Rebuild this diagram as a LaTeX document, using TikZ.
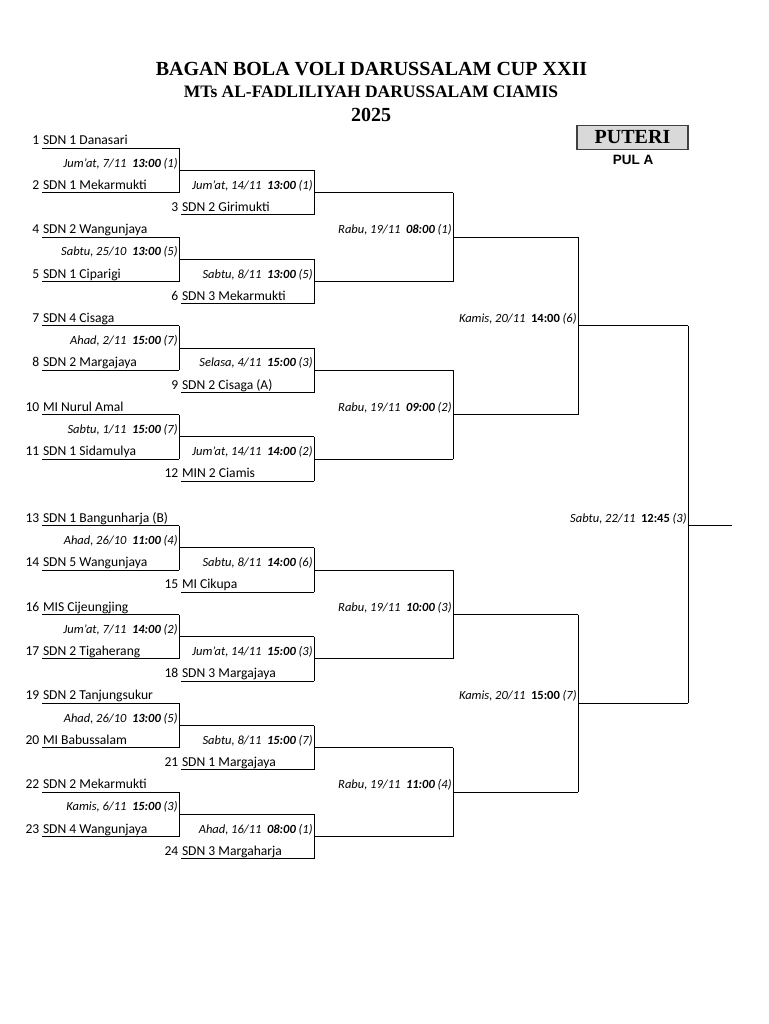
\documentclass[tikz,border=0pt]{standalone}
\usepackage{fontspec}
\setmainfont{Carlito}
\newfontfamily\judulfont{Liberation Serif}
\newfontfamily\pulfont{Liberation Sans}
\newcommand{\ry}[1]{148.3+22.2*(#1)}

\begin{document}
\begin{tikzpicture}[x=1pt,y=-1pt,
    garis/.style={line width=0.9pt},
    nomor/.style={anchor=base east,inner sep=0pt,font=\fontsize{13.6}{15}\selectfont},
    tim/.style={anchor=base west,inner sep=0pt,font=\fontsize{13.6}{15}\selectfont},
    jadwal/.style={anchor=base east,inner sep=0pt,font=\fontsize{12.5}{14}\selectfont\itshape},
    judul/.style={anchor=base,inner sep=0pt,font=\judulfont\bfseries\fontsize{#1}{#1}\selectfont}]
\useasboundingbox (0,0) rectangle (768,1024);

\node[judul=20] (judul1) at (371.5,76) {BAGAN BOLA VOLI DARUSSALAM CUP XXII};
\node[judul=17.5] (judul2) at (371,97.5) {MTs AL-FADLILIYAH DARUSSALAM CIAMIS};
\node[judul=20] (tahun) at (371,122) {2025};
\node[draw=black!75,fill=gray!30,line width=1.1pt,minimum width=111pt,minimum height=23.6pt,
      inner sep=0pt,font=\judulfont\bfseries\fontsize{20}{20}\selectfont] (puteri) at (632.5,137.5) {PUTERI};
\node[anchor=base,inner sep=0pt,font=\pulfont\bfseries\fontsize{13.5}{15}\selectfont] (pul) at (633,165) {PUL A};

\foreach \n/\r/\c/\nama in {1/0/1/SDN 1 Danasari, 2/2/1/SDN 1 Mekarmukti, 3/3/2/SDN 2 Girimukti,
    4/4/1/SDN 2 Wangunjaya, 5/6/1/SDN 1 Ciparigi, 6/7/2/SDN 3 Mekarmukti,
    7/8/1/SDN 4 Cisaga, 8/10/1/SDN 2 Margajaya, 9/11/2/SDN 2 Cisaga (A),
    10/12/1/MI Nurul Amal, 11/14/1/SDN 1 Sidamulya, 12/15/2/MIN 2 Ciamis,
    13/17/1/SDN 1 Bangunharja (B), 14/19/1/SDN 5 Wangunjaya, 15/20/2/MI Cikupa,
    16/21/1/MIS Cijeungjing, 17/23/1/SDN 2 Tigaherang, 18/24/2/SDN 3 Margajaya,
    19/25/1/SDN 2 Tanjungsukur, 20/27/1/MI Babussalam, 21/28/2/SDN 1 Margajaya,
    22/29/1/SDN 2 Mekarmukti, 23/31/1/SDN 4 Wangunjaya, 24/32/2/SDN 3 Margaharja}
{
  \ifnum\c=1 \def\xa{42}\def\xb{179}\else\def\xa{181}\def\xb{314}\fi
  \coordinate (t\n w) at (\xa,{\ry{\r}});
  \coordinate (t\n e) at (\xb,{\ry{\r}});
  \draw[garis] (t\n w) -- (t\n e);
  \node[nomor] (no\n) at ([shift={(-2.5,-3.4)}]t\n w) {\n};
  \node[tim] (tim\n) at ([shift={(0.8,-3.4)}]t\n w) {\nama};
}

\foreach \id/\x/\a/\b/\nx/\hari/\jam/\lap/\gaya in {
    A1/179/0/2/314/{Jum'at, 7/11}/13:00/1/i, A2/179/4/6/314/{Sabtu, 25/10}/13:00/5/i,
    A3/179/8/10/314/{Ahad, 2/11}/15:00/7/i, A4/179/12/14/314/{Sabtu, 1/11}/15:00/7/i,
    A5/179/17/19/314/{Ahad, 26/10}/11:00/4/i, A6/179/21/23/314/{Jum'at, 7/11}/14:00/2/i,
    A7/179/25/27/314/{Ahad, 26/10}/13:00/5/i, A8/179/29/31/314/{Kamis, 6/11}/15:00/3/i,
    B1/314/1/3/453/{Jum'at, 14/11}/13:00/1/i, B2/314/5/7/453/{Sabtu, 8/11}/13:00/5/i,
    B3/314/9/11/453/{Selasa, 4/11}/15:00/3/i, B4/314/13/15/453/{Jum'at, 14/11}/14:00/2/i,
    B5/314/18/20/453/{Sabtu, 8/11}/14:00/6/i, B6/314/22/24/453/{Jum'at, 14/11}/15:00/3/i,
    B7/314/26/28/453/{Sabtu, 8/11}/15:00/7/i, B8/314/30/32/453/{Ahad, 16/11}/08:00/1/i,
    C1/453/2/6/578/{Rabu, 19/11}/08:00/1/i, C2/453/10/14/578/{Rabu, 19/11}/09:00/2/i,
    C3/453/19/23/578/{Rabu, 19/11}/10:00/3/i, C4/453/27/31/578/{Rabu, 19/11}/11:00/4/i,
    D1/578/4/12/688/{Kamis, 20/11}/14:00/6/u, D2/578/21/29/688/{Kamis, 20/11}/15:00/7/u,
    F/688/8/25/732/{Sabtu, 22/11}/12:45/3/u}
{
  \pgfmathtruncatemacro\m{round((\a+\b)/2)}
  \coordinate (\id t) at (\x,{\ry{\a}});
  \coordinate (\id b) at (\x,{\ry{\b}});
  \coordinate (\id w) at (\x,{\ry{\m}});
  \coordinate (\id e) at (\nx,{\ry{\m}});
  \draw[garis] (\id t) -- (\id b);
  \draw[garis] (\id w) -- (\id e);
  \if\gaya u\def\jamfont{\upshape}\else\def\jamfont{\itshape}\fi
  \node[jadwal] (lbl\id) at ([shift={(-1.2,-3.4)}]\id w) {\hari\ \ \textbf{\jamfont\jam} (\lap)};
}
\end{tikzpicture}
\end{document}
